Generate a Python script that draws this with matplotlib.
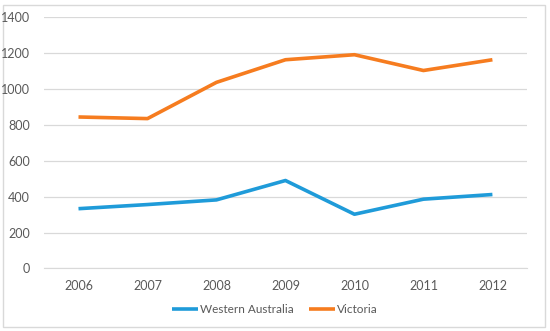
import matplotlib.pyplot as plt
from matplotlib.patches import Rectangle
import numpy as np

years = ['2006', '2007', '2008', '2009', '2010', '2011', '2012']
western_australia = [333, 356, 382, 490, 302, 386, 412]
victoria = [844, 835, 1037, 1163, 1191, 1103, 1163]

plt.rcParams['font.family'] = ['Lato', 'DejaVu Sans']

fig = plt.figure(figsize=(5.5, 3.31), dpi=100)
ax = fig.add_axes([0.08, 0.189, 0.878, 0.759])

x = np.arange(len(years))
ax.plot(x, western_australia, color='#1f9bd9', lw=2.6, label='Western Australia', solid_capstyle='butt')
ax.plot(x, victoria, color='#f67c1f', lw=2.6, label='Victoria', solid_capstyle='butt')

ax.set_xlim(-0.5, len(years) - 0.5)
ax.set_ylim(0, 1400)
ax.set_yticks(range(0, 1401, 200))
ax.set_xticks(x)
ax.set_xticklabels(years)
ax.grid(axis='y', color='#d9d9d9', lw=0.9)
ax.set_axisbelow(True)
for s in ['top', 'right', 'left']:
    ax.spines[s].set_visible(False)
ax.spines['bottom'].set_color('#d9d9d9')
ax.tick_params(length=0, colors='#595959', labelsize=9)
ax.tick_params(axis='y', pad=10)
ax.tick_params(axis='x', pad=8)

fig.legend(loc='lower center', bbox_to_anchor=(0.5, 0.015), ncol=2, frameon=False,
           fontsize=8.5, labelcolor='#595959', handlelength=2.2, handletextpad=0.15,
           columnspacing=1.3)

# marco gris alrededor del gráfico
fig.patches.append(Rectangle((0.006, 0.012), 0.985, 0.973, transform=fig.transFigure,
                             fill=False, edgecolor='#d9d9d9', lw=1, zorder=-1))

fig.savefig('out.png', dpi=100)
